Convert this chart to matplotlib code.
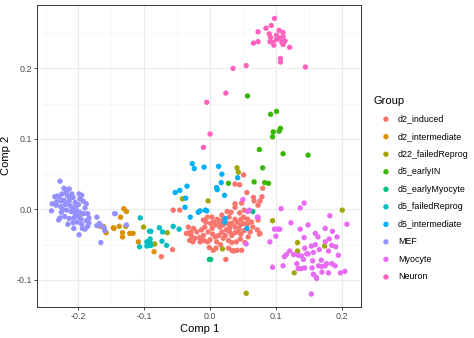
import matplotlib
matplotlib.use("Agg")
import matplotlib.pyplot as plt
from matplotlib.ticker import MultipleLocator

# --- data (Comp 1, Comp 2 per group) ---
groups = ["d2_induced", "d2_intermediate", "d22_failedReprog", "d5_earlyIN",
          "d5_earlyMyocyte", "d5_failedReprog", "d5_intermediate", "MEF",
          "Myocyte", "Neuron"]
colors = ["#F8766D", "#D89000", "#A3A500", "#39B600", "#00BF7D",
          "#00BFC4", "#00B0F6", "#9590FF", "#E76BF3", "#FF62BC"]

d2_induced_x = [0.051, 0.038, 0.045, 0.056, 0.066, 0.079, 0.080, 0.076, 0.073, 0.067,
                0.048, 0.038, 0.038, 0.032, 0.026, 0.045, 0.052, -0.056, -0.046, -0.057,
                -0.074, -0.010, -0.004, 0.003, 0.005, 0.001, 0.011, 0.018, 0.018, 0.029,
                0.038, 0.047, 0.051, 0.057, -0.025, -0.029, -0.033, -0.031, -0.026, -0.023,
                -0.016, -0.013, -0.008, -0.003, 0.003, 0.004, -0.010, -0.004, -0.001, 0.005,
                0.010, 0.013, 0.018, 0.023, 0.025, 0.030, 0.033, 0.038, 0.043, 0.047,
                0.052, 0.038, 0.046, 0.051, 0.057, 0.063, 0.065, 0.072, 0.075, 0.061,
                0.058, 0.028, 0.033, 0.040, 0.028, 0.033, 0.041, 0.048, 0.008, 0.015,
                0.020, 0.024, -0.033, -0.020, -0.028, -0.010, -0.015, 0.000, 0.073, 0.076,
                0.036, 0.014, 0.022, 0.027, 0.033, 0.041, 0.044, 0.030, 0.008, -0.006,
                0.020, 0.016, 0.053, 0.046, 0.009, -0.036]
d2_induced_y = [0.049, 0.036, 0.035, 0.024, 0.017, 0.018, 0.030, 0.012, 0.006, 0.012,
                0.009, 0.008, 0.003, -0.004, -0.003, -0.005, -0.001, -0.001, -0.001, -0.057,
                -0.067, -0.015, -0.011, -0.011, -0.018, -0.020, -0.014, -0.016, -0.008, -0.011,
                -0.014, -0.014, -0.011, -0.014, -0.027, -0.032, -0.034, -0.044, -0.046, -0.041,
                -0.040, -0.029, -0.025, -0.032, -0.027, -0.035, -0.044, -0.046, -0.054, -0.058,
                -0.046, -0.037, -0.032, -0.037, -0.029, -0.032, -0.037, -0.033, -0.032, -0.035,
                -0.030, -0.025, -0.022, -0.020, -0.021, -0.018, -0.025, -0.029, -0.035, -0.032,
                -0.039, -0.044, -0.047, -0.046, -0.055, -0.058, -0.058, -0.058, -0.039, -0.025,
                -0.022, -0.071, -0.025, -0.032, -0.038, -0.037, -0.046, -0.043, -0.015, -0.034,
                -0.059, -0.020, -0.015, -0.020, -0.020, -0.018, -0.028, -0.026, -0.022, -0.018,
                -0.041, -0.050, -0.047, -0.042, -0.055, -0.034]

d2_intermediate_x = [-0.131, -0.127, -0.136, -0.147, -0.138, -0.128, -0.133, -0.133, -0.122,
                     -0.117, -0.109, -0.085, -0.167, -0.162, -0.158, -0.146]
d2_intermediate_y = [0.001, -0.003, -0.011, -0.026, -0.024, -0.024, -0.033, -0.039, -0.034,
                     -0.034, -0.046, -0.060, -0.024, -0.024, -0.033, -0.027]

d22_failedReprog_x = [0.041, 0.043, -0.042, -0.003, 0.019, 0.095, 0.201, 0.133, 0.133,
                      0.174, 0.128, 0.055, -0.101, -0.065, -0.084, -0.198]
d22_failedReprog_y = [0.059, 0.053, 0.015, 0.012, -0.056, -0.016, -0.001, -0.047, -0.059,
                      -0.052, -0.090, -0.119, -0.025, -0.033, -0.049, -0.011]

d5_earlyIN_x = [0.057, 0.101, 0.092, 0.107, 0.105, 0.096, 0.095, 0.075, 0.111, 0.149,
                0.080, 0.028, 0.067, 0.083, 0.089]
d5_earlyIN_y = [0.161, 0.139, 0.135, 0.115, 0.111, 0.110, 0.103, 0.085, 0.079, 0.077,
                0.059, 0.037, 0.039, 0.038, 0.037]

d5_earlyMyocyte_x = [-0.001, 0.001, 0.065]
d5_earlyMyocyte_y = [-0.071, -0.071, -0.003]

d5_failedReprog_x = [-0.106, -0.092, -0.090, -0.077, -0.072, -0.056, -0.047, -0.096,
                     -0.091, -0.091, -0.096, -0.107, -0.073, -0.066, -0.090]
d5_failedReprog_y = [-0.012, -0.031, -0.031, -0.026, -0.032, -0.024, -0.028, -0.046,
                     -0.042, -0.047, -0.052, -0.053, -0.045, -0.051, -0.051]

d5_intermediate_x = [-0.027, -0.024, -0.009, 0.013, 0.018, 0.042, 0.017, 0.010, 0.011,
                     0.022, -0.053, -0.046, -0.037, -0.038, -0.030, -0.018, -0.015, -0.007,
                     -0.005, 0.023, 0.022, 0.056, -0.035]
d5_intermediate_y = [0.065, 0.058, 0.060, 0.061, 0.050, 0.045, 0.038, 0.031, 0.028,
                     0.020, 0.024, 0.027, 0.016, 0.003, -0.011, -0.004, -0.002, -0.001,
                     -0.002, -0.013, -0.018, -0.027, 0.033]

MEF_x = [-0.228, -0.222, -0.218, -0.214, -0.225, -0.232, -0.236, -0.229, -0.217, -0.210,
         -0.208, -0.222, -0.214, -0.205, -0.199, -0.195, -0.240, -0.234, -0.227, -0.220,
         -0.212, -0.204, -0.200, -0.193, -0.188, -0.190, -0.241, -0.226, -0.218, -0.211,
         -0.205, -0.198, -0.192, -0.228, -0.221, -0.214, -0.207, -0.200, -0.196, -0.186,
         -0.224, -0.230, -0.216, -0.208, -0.202, -0.195, -0.188, -0.184, -0.194, -0.190,
         -0.199, -0.186, -0.172, -0.168, -0.164, -0.161, -0.166, -0.172, -0.145, -0.160,
         -0.213, -0.226, -0.219, -0.209, -0.203, -0.233, -0.216, -0.198, -0.207, -0.184,
         -0.127, -0.144]
MEF_y = [0.040, 0.030, 0.028, 0.029, 0.022, 0.019, 0.018, 0.018, 0.020, 0.022,
         0.017, 0.013, 0.012, 0.010, 0.022, 0.020, 0.008, 0.006, 0.004, 0.007,
         0.005, 0.004, 0.007, 0.012, 0.008, 0.002, -0.002, -0.004, -0.001, -0.003,
         -0.006, -0.004, -0.006, -0.012, -0.010, -0.013, -0.012, -0.010, -0.014, -0.006,
         0.000, -0.015, -0.021, -0.019, -0.018, -0.021, -0.016, -0.012, -0.027, -0.028,
         -0.036, -0.024, -0.011, -0.020, -0.024, -0.026, -0.047, -0.023, -0.006, -0.030,
         0.016, 0.012, 0.024, 0.000, -0.001, 0.011, 0.008, 0.015, -0.027, -0.019,
         -0.022, -0.006]

Myocyte_x = [0.143, 0.137, 0.108, 0.073, 0.123, 0.149, 0.098, 0.103, 0.106, 0.137,
             0.182, 0.208, 0.175, 0.100, 0.091, 0.143, 0.160, 0.164, 0.186, 0.193,
             0.181, 0.175, 0.154, 0.144, 0.160, 0.121, 0.127, 0.134, 0.139, 0.147,
             0.149, 0.157, 0.166, 0.180, 0.185, 0.191, 0.195, 0.113, 0.142, 0.156,
             0.169, 0.177, 0.165, 0.170, 0.175, 0.185, 0.190, 0.144, 0.155, 0.134,
             0.095, 0.111, 0.132, 0.139, 0.198, 0.205, 0.180, 0.157, 0.161, 0.162,
             0.154, 0.170, 0.116, 0.050, 0.060, 0.057, 0.072, 0.055]
Myocyte_y = [0.009, 0.002, 0.001, -0.011, -0.019, -0.022, -0.028, -0.028, -0.028, -0.028,
             -0.009, -0.021, -0.027, -0.038, -0.046, -0.040, -0.034, -0.039, -0.031, -0.039,
             -0.042, -0.046, -0.052, -0.055, -0.050, -0.059, -0.064, -0.065, -0.066, -0.063,
             -0.063, -0.061, -0.057, -0.059, -0.051, -0.053, -0.065, -0.067, -0.071, -0.073,
             -0.072, -0.077, -0.080, -0.081, -0.080, -0.077, -0.080, -0.083, -0.083, -0.084,
             -0.082, -0.080, -0.077, -0.084, -0.090, -0.088, -0.090, -0.092, -0.096, -0.098,
             -0.120, -0.089, -0.064, 0.014, -0.001, -0.003, -0.011, -0.049]

Neuron_x = [0.098, 0.085, 0.093, 0.073, 0.073, 0.066, 0.090, 0.092, 0.105, 0.111,
            0.101, 0.106, 0.111, 0.114, 0.095, 0.101, 0.109, 0.097, 0.111, 0.121,
            0.091, 0.107, 0.107, 0.055, 0.035, 0.145, 0.024, -0.005, 0.000, -0.010]
Neuron_y = [0.271, 0.257, 0.261, 0.252, 0.238, 0.236, 0.249, 0.244, 0.254, 0.251,
            0.247, 0.243, 0.245, 0.239, 0.237, 0.241, 0.237, 0.233, 0.234, 0.230,
            0.238, 0.214, 0.209, 0.204, 0.200, 0.202, 0.165, 0.152, 0.107, 0.088]

series = [
    (d2_induced_x, d2_induced_y),
    (d2_intermediate_x, d2_intermediate_y),
    (d22_failedReprog_x, d22_failedReprog_y),
    (d5_earlyIN_x, d5_earlyIN_y),
    (d5_earlyMyocyte_x, d5_earlyMyocyte_y),
    (d5_failedReprog_x, d5_failedReprog_y),
    (d5_intermediate_x, d5_intermediate_y),
    (MEF_x, MEF_y),
    (Myocyte_x, Myocyte_y),
    (Neuron_x, Neuron_y),
]

plt.rcParams["font.family"] = ["Liberation Sans", "DejaVu Sans"]

fig = plt.figure(figsize=(4.74, 3.38), dpi=100)
ax = fig.add_axes([0.0787, 0.0926, 0.683, 0.8926])

handles = []
for name, col, (xs, ys) in zip(groups, colors, series):
    h = ax.scatter(xs, ys, s=15, color=col, edgecolors="none", label=name, zorder=3)
    handles.append(h)

ax.set_xlim(-0.2625, 0.2295)
ax.set_ylim(-0.138, 0.290)
ax.xaxis.set_major_locator(MultipleLocator(0.1))
ax.yaxis.set_major_locator(MultipleLocator(0.1))
ax.xaxis.set_minor_locator(MultipleLocator(0.05))
ax.yaxis.set_minor_locator(MultipleLocator(0.05))

fmt = lambda v, _: "%.1f" % v if abs(v) > 1e-9 else "0.0"
ax.xaxis.set_major_formatter(fmt)
ax.yaxis.set_major_formatter(fmt)

ax.grid(True, which="major", color="#EBEBEB", linewidth=0.75, zorder=0)
ax.grid(True, which="minor", color="#F3F3F3", linewidth=0.4, zorder=0)
ax.set_axisbelow(True)
for sp in ax.spines.values():
    sp.set_color("#333333")
    sp.set_linewidth(0.7)
ax.tick_params(which="major", length=2.2, width=0.6, color="#333333",
               labelsize=6.4, labelcolor="#4D4D4D", pad=1.5)
ax.tick_params(which="minor", length=0)

ax.set_xlabel("Comp 1", fontsize=8, labelpad=2)
ax.set_ylabel("Comp 2", fontsize=8, labelpad=4)

# legend title drawn separately so the keys can sit indented like ggplot's
fig.text(373 / 474, 1 - 100.5 / 338, "Group", fontsize=8, ha="left", va="center")
leg = fig.legend(handles=handles, loc="upper left",
                 bbox_to_anchor=(381.5 / 474, 1 - 114.5 / 338),
                 frameon=False, fontsize=6.4, handlelength=1.0,
                 handletextpad=0.85, labelspacing=0.96, borderpad=0,
                 borderaxespad=0)

fig.savefig("out.png", dpi=100)
